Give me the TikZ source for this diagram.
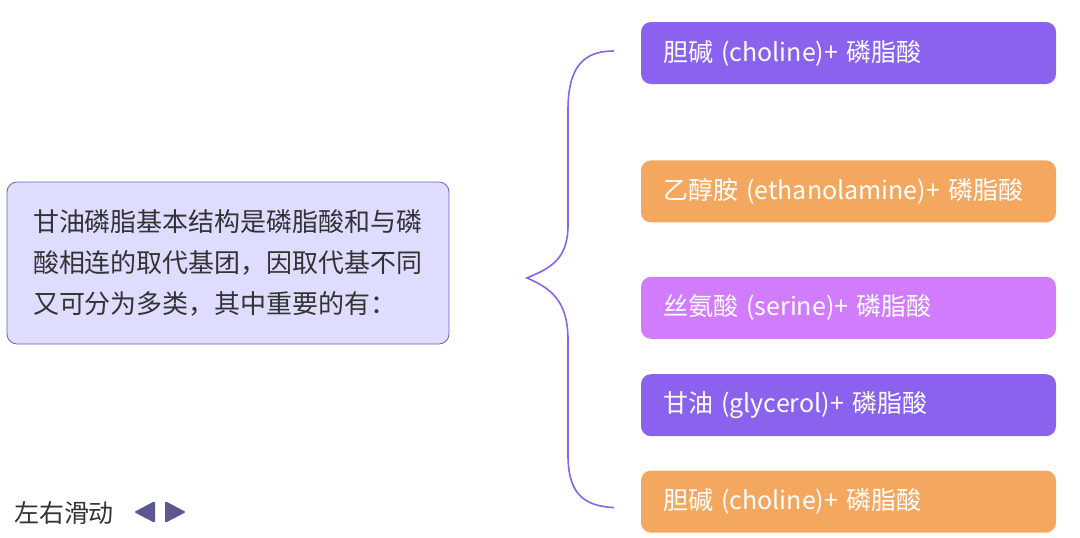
\documentclass[tikz,border=0pt]{standalone}
\usepackage{fontspec}
\setmainfont{Noto Sans CJK SC}
\usepackage{tikz}
\usetikzlibrary{positioning}
\definecolor{kindpurple}{HTML}{8B62EE}
\definecolor{kindorange}{HTML}{F4A85F}
\definecolor{kindpink}{HTML}{D17CFD}
\definecolor{summaryfill}{HTML}{DEDCFF}
\definecolor{summaryline}{HTML}{6C64B8}
\definecolor{hintgray}{HTML}{333333}
\definecolor{hinticon}{HTML}{5C5891}

\begin{document}
\begin{tikzpicture}[x=1pt, y=-1pt, node distance=34pt]
      \tikzstyle{kind box} = [rectangle, rounded corners=10pt, minimum width=415pt, minimum height=62pt,
         text width=371pt, inner xsep=22pt, inner ysep=0pt, align=left, text=white,
         font=\fontsize{25}{28}\selectfont]
      \tikzstyle{main box} = [rectangle, rounded corners=10pt, fill=summaryfill, draw=summaryline, line width=0.8pt,
         minimum width=442pt, minimum height=162pt, align=left, text=hintgray, font=\fontsize{26}{41}\selectfont]
      \tikzstyle{brace} = [draw=kindpurple, line width=1.6pt, line join=miter]
      \useasboundingbox (0,0) rectangle (1080,538);
      %nodes
      \node[main box]                  (summary)      at (228,263)    {甘油磷脂基本结构是磷脂酸和与磷\\酸相连的取代基团，因取代基不同\\又可分为多类，其中重要的有：};
      \node[kind box, fill=kindpurple] (choline)      at (848.5,53)   {胆碱 (choline)+ 磷脂酸};
      \node[kind box, fill=kindorange] (ethanolamine) [below=76pt of choline]      {乙醇胺 (ethanolamine)+ 磷脂酸};
      \node[kind box, fill=kindpink]   (serine)       [below=54pt of ethanolamine] {丝氨酸 (serine)+ 磷脂酸};
      \node[kind box, fill=kindpurple] (glycerol)     [below=35pt of serine]       {甘油 (glycerol)+ 磷脂酸};
      \node[kind box, fill=kindorange] (cholinetwo)   [below=34pt of glycerol]     {胆碱 (choline)+ 磷脂酸};
      \node[text=hintgray, font=\fontsize{25}{30}\selectfont, inner sep=0pt] (slide) at (64,513) {左右滑动};
      \coordinate (tip) at (527,278);

      %lines
      \path [brace] ([xshift=-27pt,yshift=2pt]choline.west) .. controls (585,51) and (568,65) .. (568,110)
         -- (568,225) .. controls (568,260) and (550,268) .. (tip)
         .. controls (550,288) and (568,300) .. (568,340)
         -- (568,455) .. controls (568,495) and (585,506) .. ([xshift=-27pt,yshift=-6pt]cholinetwo.west);

      %icons
      \fill[hinticon, rounded corners=2pt] (155,501) -- (155,523) -- (134,512) -- cycle;
      \fill[hinticon, rounded corners=2pt] (165,501) -- (165,523) -- (186,512) -- cycle;
    \end{tikzpicture}
\end{document}
